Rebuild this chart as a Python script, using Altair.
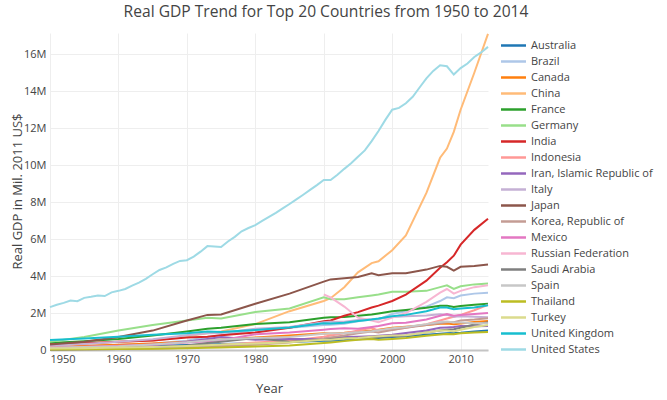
import altair as alt
import pandas as pd

YEARS = [1950, 1955, 1960, 1965, 1970, 1973, 1975, 1980, 1985, 1990, 1991, 1993,
         1995, 1997, 1998, 2000, 2002, 2005, 2007, 2008, 2009, 2010, 2012, 2014]
US_YEARS = list(range(1950, 2015))

COUNTRIES = ["Australia", "Brazil", "Canada", "China", "France", "Germany", "India",
             "Indonesia", "Iran, Islamic Republic of", "Italy", "Japan", "Korea, Republic of",
             "Mexico", "Russian Federation", "Saudi Arabia", "Spain", "Thailand", "Turkey",
             "United Kingdom", "United States"]

COLORS = ["#1f77b4", "#aec7e8", "#ff7f0e", "#ffbb78", "#2ca02c", "#98df8a", "#d62728",
          "#ff9896", "#9467bd", "#c5b0d5", "#8c564b", "#c49c94", "#e377c2", "#f7b6d2",
          "#7f7f7f", "#c7c7c7", "#bcbd22", "#dbdb8d", "#17becf", "#9edae5"]

# Real GDP, in millions of "Mil. 2011 US$" (the axis' "M")
australia = [0.12, 0.14, 0.17, 0.21, 0.27, 0.30, 0.32, 0.37, 0.43, 0.50, 0.50, 0.53, 0.58, 0.62, 0.65, 0.70, 0.74, 0.82, 0.88, 0.90, 0.92, 0.94, 1.00, 1.05]
brazil = [0.15, 0.20, 0.28, 0.35, 0.50, 0.70, 0.80, 1.10, 1.20, 1.35, 1.37, 1.42, 1.55, 1.65, 1.65, 1.95, 2.10, 2.35, 2.65, 2.85, 2.80, 2.95, 3.05, 3.10]
canada = [0.18, 0.23, 0.28, 0.35, 0.45, 0.53, 0.57, 0.68, 0.78, 0.90, 0.89, 0.93, 0.99, 1.05, 1.10, 1.20, 1.26, 1.35, 1.42, 1.44, 1.40, 1.44, 1.51, 1.57]
china = [0.20, 0.35, 0.45, 0.50, 0.75, 0.90, 1.00, 1.40, 2.10, 2.65, 2.80, 3.40, 4.20, 4.70, 4.80, 5.40, 6.20, 8.50, 10.40, 10.90, 11.80, 13.00, 15.00, 17.10]
france = [0.38, 0.47, 0.60, 0.78, 1.00, 1.15, 1.20, 1.40, 1.50, 1.75, 1.77, 1.78, 1.85, 1.92, 1.98, 2.10, 2.17, 2.28, 2.40, 2.40, 2.33, 2.38, 2.45, 2.50]
germany = [0.45, 0.70, 1.05, 1.35, 1.60, 1.75, 1.70, 2.05, 2.25, 2.85, 2.75, 2.75, 2.85, 2.95, 3.00, 3.15, 3.15, 3.20, 3.40, 3.50, 3.30, 3.45, 3.55, 3.60]
india = [0.30, 0.36, 0.45, 0.52, 0.68, 0.72, 0.80, 0.95, 1.20, 1.55, 1.60, 1.85, 2.05, 2.30, 2.40, 2.65, 3.00, 3.75, 4.45, 4.75, 5.10, 5.70, 6.50, 7.10]
indonesia = [0.10, 0.12, 0.14, 0.15, 0.20, 0.25, 0.28, 0.40, 0.50, 0.72, 0.78, 0.90, 1.05, 1.20, 1.05, 1.10, 1.20, 1.40, 1.60, 1.70, 1.80, 1.90, 2.15, 2.45]
iran = [0.08, 0.10, 0.15, 0.25, 0.45, 0.60, 0.70, 0.55, 0.60, 0.60, 0.65, 0.70, 0.72, 0.75, 0.77, 0.82, 0.92, 1.05, 1.20, 1.22, 1.24, 1.30, 1.28, 1.30]
italy = [0.25, 0.33, 0.45, 0.58, 0.80, 0.90, 0.92, 1.15, 1.25, 1.50, 1.53, 1.53, 1.62, 1.66, 1.69, 1.78, 1.82, 1.86, 1.93, 1.90, 1.80, 1.83, 1.80, 1.77]
japan = [0.30, 0.45, 0.70, 1.05, 1.60, 1.90, 1.92, 2.50, 3.05, 3.70, 3.82, 3.88, 3.95, 4.15, 4.05, 4.15, 4.15, 4.35, 4.55, 4.50, 4.30, 4.50, 4.55, 4.62]
korea = [0.03, 0.04, 0.05, 0.07, 0.12, 0.17, 0.20, 0.28, 0.40, 0.62, 0.68, 0.78, 0.90, 1.00, 0.95, 1.08, 1.20, 1.35, 1.45, 1.50, 1.50, 1.60, 1.65, 1.72]
mexico = [0.14, 0.18, 0.23, 0.30, 0.40, 0.48, 0.53, 0.85, 0.95, 1.10, 1.13, 1.17, 1.15, 1.25, 1.30, 1.45, 1.48, 1.65, 1.85, 1.95, 1.85, 1.90, 1.95, 2.00]
russia = [None] * 9 + [3.00, 2.85, 2.35, 1.75, 1.60, 1.50, 1.75, 2.00, 2.60, 3.10, 3.30, 3.05, 3.20, 3.40, 3.50]
saudi = [0.02, 0.04, 0.06, 0.12, 0.25, 0.38, 0.45, 0.65, 0.45, 0.55, 0.60, 0.63, 0.65, 0.68, 0.70, 0.75, 0.78, 0.95, 1.05, 1.10, 1.12, 1.20, 1.38, 1.50]
spain = [0.12, 0.16, 0.20, 0.30, 0.42, 0.52, 0.57, 0.65, 0.70, 0.88, 0.90, 0.90, 0.96, 1.02, 1.07, 1.18, 1.25, 1.40, 1.52, 1.54, 1.49, 1.49, 1.45, 1.45]
thailand = [0.03, 0.04, 0.05, 0.07, 0.10, 0.12, 0.14, 0.19, 0.25, 0.38, 0.41, 0.48, 0.56, 0.60, 0.55, 0.60, 0.65, 0.77, 0.84, 0.86, 0.85, 0.90, 0.95, 0.98]
turkey = [0.08, 0.10, 0.13, 0.16, 0.22, 0.26, 0.30, 0.35, 0.42, 0.55, 0.55, 0.62, 0.65, 0.72, 0.74, 0.78, 0.80, 0.95, 1.05, 1.06, 1.00, 1.10, 1.25, 1.35]
uk = [0.54, 0.62, 0.72, 0.82, 0.90, 1.00, 0.98, 1.08, 1.22, 1.45, 1.43, 1.47, 1.57, 1.65, 1.70, 1.82, 1.90, 2.10, 2.30, 2.30, 2.20, 2.25, 2.30, 2.42]
# United States, one value per year 1950-2014
us = [2.32, 2.45, 2.55, 2.68, 2.64, 2.82, 2.88, 2.95, 2.92, 3.12,
      3.20, 3.30, 3.48, 3.64, 3.85, 4.10, 4.33, 4.47, 4.66, 4.82,
      4.86, 5.05, 5.32, 5.62, 5.60, 5.57, 5.87, 6.12, 6.42, 6.60,
      6.76, 6.98, 7.20, 7.42, 7.66, 7.90, 8.15, 8.40, 8.66, 8.92,
      9.20, 9.20, 9.48, 9.80, 10.10, 10.45, 10.80, 11.30, 11.85, 12.45,
      13.00, 13.10, 13.35, 13.70, 14.20, 14.70, 15.10, 15.40, 15.35, 14.90,
      15.25, 15.50, 15.85, 16.10, 16.40]

SERIES = [australia, brazil, canada, china, france, germany, india, indonesia, iran, italy,
          japan, korea, mexico, russia, saudi, spain, thailand, turkey, uk, us]

rows = []
for name, vals in zip(COUNTRIES, SERIES):
    yrs = US_YEARS if name == "United States" else YEARS
    for yr, v in zip(yrs, vals):
        if v is not None:
            rows.append({"Country": name, "Year": yr, "GDP": v * 1e6})
df = pd.DataFrame(rows)

FONT = "Open Sans"

chart = alt.Chart(df).mark_line(strokeWidth=2).encode(
    x=alt.X("Year:Q",
            scale=alt.Scale(domain=[1950, 2014], nice=False, zero=False),
            axis=alt.Axis(values=list(range(1950, 2011, 10)), format="d", title="Year",
                          grid=True, gridColor="#eeeeee", ticks=False, labelPadding=3,
                          domainColor="#c4c4c4", domainWidth=2,
                          titleX=219, titleY=38, titleAlign="center", titleBaseline="middle")),
    y=alt.Y("GDP:Q",
            scale=alt.Scale(domain=[0, 17.15e6], nice=False),
            axis=alt.Axis(values=[i * 2e6 for i in range(9)],
                          labelExpr="datum.value == 0 ? '0' : (datum.value / 1000000) + 'M'",
                          title="Real GDP in Mil. 2011 US$", grid=True, gridColor="#eeeeee",
                          ticks=False, domain=False, labelPadding=4,
                          titleX=-33, titleY=158, titleAlign="center", titleBaseline="middle")),
    color=alt.Color("Country:N",
                    scale=alt.Scale(domain=COUNTRIES, range=COLORS),
                    legend=alt.Legend(title=None, orient="none", legendX=456, legendY=5,
                                      symbolType="M-2,0H2", symbolSize=156, symbolStrokeWidth=2.5,
                                      labelFontSize=11, labelColor="#444444", labelFont=FONT,
                                      rowPadding=3.0, labelOffset=10, labelLimit=200)),
    order=alt.Order("Year:Q"),
).properties(
    width=438, height=317,
    autosize=alt.AutoSizeParams(type="none"),
    padding={"left": 50, "top": 33, "right": 179, "bottom": 50},
    title=alt.TitleParams("Real GDP Trend for Top 20 Countries from 1950 to 2014",
                          anchor="middle", dx=57, offset=9, fontSize=15.6,
                          font=FONT, fontWeight="normal", color="#444444"),
).configure_axis(
    labelFont=FONT, labelFontSize=11, labelColor="#444444",
    titleFont=FONT, titleFontSize=13, titleColor="#444444", titleFontWeight="normal",
).configure_view(stroke=None)

chart.save("out.html", embed_options={"renderer": "svg", "actions": False})
